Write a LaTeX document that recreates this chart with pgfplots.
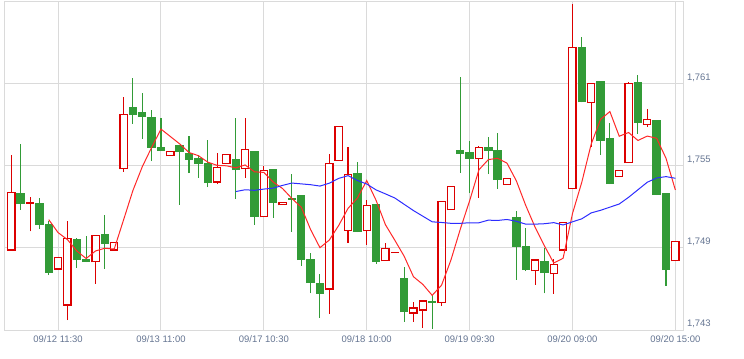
\documentclass[border=0pt]{standalone}
\usepackage{pgfplots}
\pgfplotsset{compat=1.18}
\usepackage{pgfplotstable}
\usepackage{fontspec}
\setmainfont{Liberation Sans}
\definecolor{cred}{RGB}{220,0,0}
\definecolor{cgreen}{RGB}{50,155,55}
\definecolor{mared}{RGB}{255,40,40}
\definecolor{mablue}{RGB}{45,45,255}
\definecolor{gridc}{RGB}{218,218,218}
\definecolor{labc}{RGB}{100,116,145}
% up (red, hollow) candles: x open high low close
\pgfplotstableread{
x o h l c
0 1748.85 1755.80 1748.85 1753.02
2 1752.27 1752.73 1750.20 1752.27
5 1747.46 1748.27 1747.46 1748.27
6 1744.83 1750.93 1743.73 1749.66
9 1747.98 1749.88 1746.37 1749.88
11 1748.85 1749.37 1748.85 1749.37
12 1754.78 1760.05 1754.56 1758.73
17 1755.73 1756.02 1755.73 1756.02
22 1753.81 1755.95 1753.66 1754.85
23 1755.15 1755.80 1755.15 1755.80
25 1754.78 1758.51 1754.12 1756.17
27 1751.27 1755.00 1751.27 1754.63
29 1752.15 1752.32 1752.15 1752.32
34 1746.00 1755.83 1744.17 1755.15
35 1755.37 1757.85 1755.37 1757.85
36 1750.29 1756.34 1749.37 1754.34
38 1750.24 1752.46 1749.22 1752.07
40 1748.05 1749.37 1748.05 1748.93
41 1748.66 1748.66 1748.66 1748.66
43 1744.24 1745.05 1743.59 1744.61
44 1744.46 1745.12 1743.15 1745.12
46 1744.98 1752.37 1744.78 1752.37
47 1751.78 1753.46 1751.78 1753.46
50 1755.51 1756.44 1752.66 1756.32
53 1753.63 1754.05 1753.63 1754.05
56 1747.32 1748.12 1746.29 1748.12
58 1747.10 1748.17 1745.63 1747.76
59 1748.85 1750.83 1748.85 1750.83
60 1753.32 1766.80 1753.32 1763.63
62 1759.61 1761.00 1756.37 1761.00
65 1754.20 1754.63 1754.20 1754.63
66 1755.22 1761.12 1755.22 1761.00
68 1758.00 1759.12 1757.83 1758.37
71 1748.05 1749.44 1748.05 1749.44
}\up
% down (green, filled) candles: x open high low close
\pgfplotstableread{
x o h l c
1 1752.98 1756.61 1751.78 1752.20
3 1752.25 1752.66 1750.37 1750.66
4 1750.71 1750.95 1747.00 1747.15
7 1749.61 1749.73 1747.54 1748.10
8 1748.15 1749.88 1747.95 1747.95
10 1749.98 1751.37 1747.46 1749.27
13 1759.27 1761.37 1758.05 1758.71
14 1758.90 1760.34 1756.98 1758.54
15 1758.54 1759.10 1755.34 1756.29
16 1756.34 1758.51 1756.07 1756.07
18 1756.49 1756.49 1752.15 1756.00
19 1755.95 1757.20 1754.46 1755.42
20 1755.54 1755.76 1754.12 1755.12
21 1755.17 1756.90 1753.44 1753.73
24 1755.46 1758.46 1752.56 1754.68
26 1756.05 1756.05 1750.68 1751.24
28 1754.73 1754.78 1751.20 1752.27
30 1752.61 1754.37 1750.17 1752.51
31 1752.83 1752.83 1747.66 1748.10
32 1748.15 1748.64 1745.68 1746.42
33 1746.46 1747.10 1743.88 1745.66
37 1754.49 1755.24 1750.15 1750.15
39 1752.17 1752.17 1747.83 1747.95
42 1746.83 1747.59 1743.59 1744.29
45 1745.15 1745.54 1743.07 1744.95
48 1756.12 1761.51 1754.49 1755.85
49 1755.98 1756.83 1753.00 1755.49
51 1756.34 1757.07 1754.39 1756.07
52 1756.12 1757.42 1753.32 1753.95
54 1751.22 1751.71 1746.68 1749.05
55 1749.10 1750.46 1747.29 1747.37
57 1748.07 1749.00 1745.68 1747.15
61 1763.66 1764.37 1759.63 1759.63
63 1761.17 1761.17 1755.80 1756.80
64 1757.00 1758.12 1753.66 1753.66
67 1761.10 1761.59 1757.34 1758.12
69 1758.32 1758.32 1752.85 1752.85
70 1752.98 1752.98 1746.22 1747.37
}\down
% short moving average (red)
\pgfplotstableread{
x m
4 1751.06
5 1750.11
6 1749.60
7 1748.77
8 1748.22
9 1748.77
10 1748.97
11 1748.91
12 1751.04
13 1753.19
14 1754.92
15 1756.33
16 1757.67
17 1757.13
18 1756.59
19 1755.96
20 1755.73
21 1755.26
22 1755.02
23 1754.99
24 1754.84
25 1755.05
26 1754.55
27 1754.51
28 1753.80
29 1753.33
30 1752.60
31 1751.97
32 1750.33
33 1749.01
34 1749.57
35 1750.63
36 1751.88
37 1752.63
38 1753.91
39 1752.47
40 1750.69
41 1749.56
42 1748.39
43 1746.89
44 1746.33
45 1745.53
46 1746.27
47 1748.10
48 1750.35
49 1752.43
50 1754.70
51 1755.44
52 1755.54
53 1755.18
54 1753.89
55 1752.10
56 1750.51
57 1749.15
58 1747.89
59 1748.24
60 1751.50
61 1753.80
62 1756.57
63 1758.38
64 1758.95
65 1757.15
66 1757.42
67 1756.84
68 1757.16
69 1757.00
70 1755.54
71 1753.23
}\mafast
% long moving average (blue)
\pgfplotstableread{
x m
24 1753.11
25 1753.24
26 1753.20
27 1753.29
28 1753.36
29 1753.56
30 1753.73
31 1753.67
32 1753.61
33 1753.51
34 1753.72
35 1754.07
36 1754.27
37 1753.92
38 1753.66
39 1753.23
40 1752.94
41 1752.64
42 1752.18
43 1751.72
44 1751.31
45 1750.90
46 1750.85
47 1750.79
48 1750.79
49 1750.83
50 1750.83
51 1751.02
52 1751.00
53 1751.07
54 1750.94
55 1750.73
56 1750.73
57 1750.76
58 1750.84
59 1750.67
60 1750.90
61 1751.12
62 1751.55
63 1751.74
64 1751.97
65 1752.20
66 1752.69
67 1753.24
68 1753.79
69 1754.10
70 1754.20
71 1754.08
}\maslow
\begin{document}
\begin{tikzpicture}
\path[use as bounding box] (0,0) rectangle (558pt,268.5pt);
\begin{axis}[
  at={(3.525pt,21pt)}, anchor=south west, scale only axis,
  width=508.95pt, height=246.2pt,
  xmin=-0.71, xmax=71.85, ymin=1743, ymax=1766.97,
  axis line style={gridc, line width=0.75pt},
  grid=major, major grid style={gridc, line width=0.75pt},
  major tick length=0pt,
  xtick={5,16,27,38,49,60,71},
  xticklabels={09/12 11:30,09/13 11:00,09/17 10:30,09/18 10:00,09/19 09:30,09/20 09:00,09/20 15:00},
  ytick={1743,1749,1755,1761},
  yticklabels={{1,743},{1,749},{1,755},{1,761}},
  yticklabel pos=right,
  tick label style={font=\fontsize{7.1}{8}\selectfont, text=labc, inner sep=0pt},
  xticklabel style={anchor=base, yshift=-9.5pt},
  yticklabel style={anchor=base west, xshift=2.6pt, yshift=2.5pt},
]
% wicks
\addplot[draw=none, mark=none, error bars/.cd, y dir=plus, y explicit, error mark=none,
  error bar style={draw=cred, line width=0.8pt}]
  table[x=x, y=l, y error plus expr=\thisrow{h}-\thisrow{l}] {\up};
\addplot[draw=none, mark=none, error bars/.cd, y dir=plus, y explicit, error mark=none,
  error bar style={draw=cgreen, line width=0.8pt}]
  table[x=x, y=l, y error plus expr=\thisrow{h}-\thisrow{l}] {\down};
% green bodies
\addplot[draw=none, mark=none, error bars/.cd, y dir=plus, y explicit, error mark=none,
  error bar style={draw=cgreen, line width=6.3pt}]
  table[x=x, y=c, y error plus expr=\thisrow{o}-\thisrow{c}] {\down};
% red hollow bodies: red outer block, then white inside
\addplot[draw=none, mark=none, error bars/.cd, y dir=plus, y explicit, error mark=none,
  error bar style={draw=cred, line width=6.3pt}]
  table[x=x, y expr=\thisrow{o}-0.045, y error plus expr=\thisrow{c}-\thisrow{o}+0.09] {\up};
\addplot[draw=none, mark=none, error bars/.cd, y dir=plus, y explicit, error mark=none,
  error bar style={draw=white, line width=4.5pt}]
  table[x=x, y expr=\thisrow{o}+0.045, y error plus expr={max(\thisrow{c}-\thisrow{o}-0.09,0)}] {\up};
% moving averages
\addplot[mared, line width=0.75pt, mark=none] table[x=x, y=m] {\mafast};
\addplot[mablue, line width=0.75pt, mark=none] table[x=x, y=m] {\maslow};
\end{axis}
\end{tikzpicture}
\end{document}
